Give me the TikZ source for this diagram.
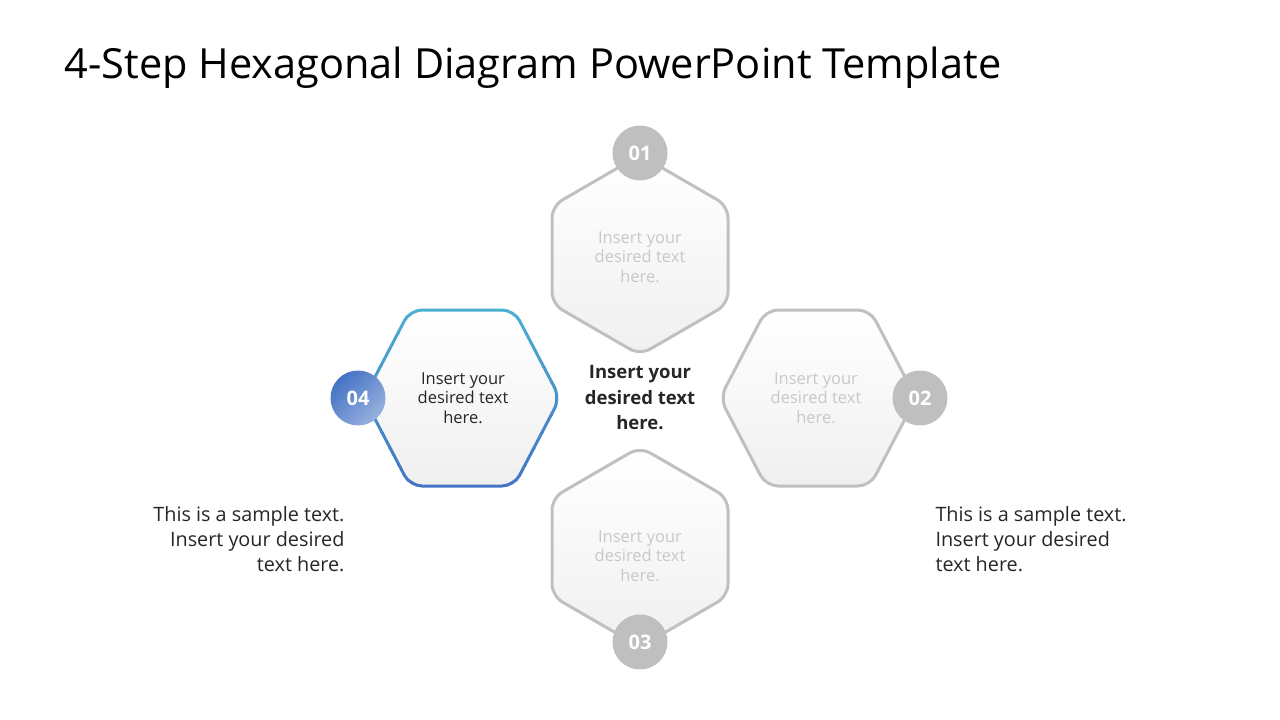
\documentclass[tikz,border=0pt]{standalone}
\usepackage{fontspec}
\setmainfont{Open Sans}
\usetikzlibrary{calc}
\definecolor{hexgray}{HTML}{C0C0C0}
\definecolor{txtgray}{HTML}{C8C8C8}
\definecolor{numgray}{HTML}{BFBFBF}
\definecolor{blueA}{HTML}{4BB0D0}
\definecolor{blueB}{HTML}{4472C4}
\definecolor{dark}{HTML}{262626}
\begin{document}
\begin{tikzpicture}[x=1pt,y=-1pt,
  hexshape/.style={line width=3pt,rounded corners=12pt,top color=white,bottom color=black!6},
  graytxt/.style={text=txtgray,font=\fontsize{16.5}{19.5}\selectfont,align=center},
  num/.style={circle,minimum size=55pt,inner sep=0pt,text=white,font=\bfseries\fontsize{20}{24}\selectfont},
  side/.style={text=dark,font=\fontsize{19.8}{25}\selectfont}]
\useasboundingbox (0,0) rectangle (1280,720);
\node[anchor=west,font=\fontsize{41.5}{48}\selectfont,text=black] (title) at (61,68) {4-Step Hexagonal Diagram PowerPoint Template};
% top hex
\draw[hexshape,draw=hexgray] (640,155)--(728,206)--(728,304)--(640,355)--(552,304)--(552,206)--cycle;
% bottom hex
\draw[hexshape,draw=hexgray] (640,447)--(728,498)--(728,596)--(640,647)--(552,596)--(552,498)--cycle;
% right hex
\draw[hexshape,draw=hexgray] (766,310)--(870,310)--(916,398)--(870,486)--(766,486)--(720,398)--cycle;
% left hex (blue gradient stroke)
\fill[rounded corners=12pt,top color=white,bottom color=black!6] (410,310)--(514,310)--(560,398)--(514,486)--(410,486)--(364,398)--cycle;
\foreach \i in {0,...,11}{
  \pgfmathsetmacro{\pct}{100-\i*100/11}
  \begin{scope}
  \clip (300,{300+\i*16.5}) rectangle (600,{300+(\i+1)*16.5});
  \draw[line width=3pt,rounded corners=12pt,draw=blueA!\pct!blueB] (410,310)--(514,310)--(560,398)--(514,486)--(410,486)--(364,398)--cycle;
  \end{scope}}
\node[graytxt] (t1) at (640,257) {Insert your\\desired text\\here.};
\node[graytxt] (t3) at (640,556) {Insert your\\desired text\\here.};
\node[graytxt] (t2) at (816,398) {Insert your\\desired text\\here.};
\node[graytxt,text=dark] (t4) at (463,398) {Insert your\\desired text\\here.};
\node[align=center,text=dark,font=\bfseries\fontsize{18.5}{25.5}\selectfont] (c) at (640,398) {Insert your\\desired text\\here.};
\node[num,fill=numgray] (n1) at (640,153) {01};
\node[num,fill=numgray] (n2) at (920,398) {02};
\node[num,fill=numgray] (n3) at (640,642) {03};
\node[num,shading=axis,left color=blueB,right color=blueB!55!white,shading angle=45] (n4) at (358,398) {04};
\node[side,align=right,anchor=north east] (l) at (348,503) {This is a sample text.\\Insert your desired\\text here.};
\node[side,align=left,anchor=north west] (r) at (932,503) {This is a sample text.\\Insert your desired\\text here.};
\end{tikzpicture}
\end{document}
